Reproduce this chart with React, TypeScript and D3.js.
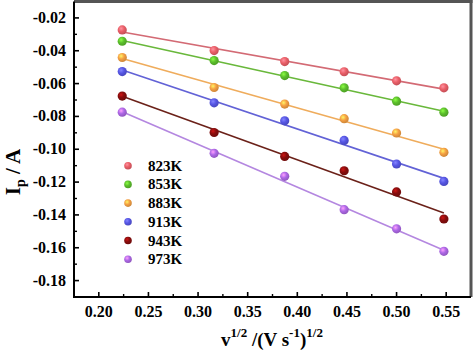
import React from "react";
import * as d3 from "d3";

const scanRootX = [0.2236, 0.3162, 0.3873, 0.4472, 0.5, 0.5477];
const temps = ["823K", "853K", "883K", "913K", "943K", "973K"];
const ip823 = [-0.0273, -0.0399, -0.0466, -0.0528, -0.0583, -0.0626];
const ip853 = [-0.0342, -0.046, -0.0551, -0.0626, -0.0707, -0.0774];
const ip883 = [-0.0441, -0.0624, -0.0725, -0.0814, -0.0901, -0.1019];
const ip913 = [-0.0527, -0.0717, -0.0827, -0.0946, -0.109, -0.1196];
const ip943 = [-0.0676, -0.0898, -0.1044, -0.1131, -0.126, -0.1425];
const ip973 = [-0.0774, -0.1025, -0.1165, -0.1368, -0.1485, -0.1622];
const seriesValues = [ip823, ip853, ip883, ip913, ip943, ip973];
const markerColors = ["#ea5f68", "#5cbf2c", "#f5a043", "#5656e4", "#860d0d", "#ad68e6"];
const lineColors = ["#d36a74", "#69b83b", "#efac5c", "#6262d6", "#6b2119", "#b487e0"];
const xTicks = [0.2, 0.25, 0.3, 0.35, 0.4, 0.45, 0.5, 0.55];
const yTicks = [-0.02, -0.04, -0.06, -0.08, -0.1, -0.12, -0.14, -0.16, -0.18];

const W = 474, H = 362;
const L = 74, R = 471, T = 1.5, B = 297;

function fit(xs: number[], ys: number[]) {
  const mx = d3.mean(xs)!, my = d3.mean(ys)!;
  let num = 0, den = 0;
  xs.forEach((x, i) => { num += (x - mx) * (ys[i] - my); den += (x - mx) ** 2; });
  const b = num / den;
  return { b, a: my - b * mx };
}

export default function App() {
  const x = d3.scaleLinear().domain([0.175, 0.575]).range([L, R]);
  const y = d3.scaleLinear().domain([-0.19, -0.01]).range([B, T]);
  const font = "'Liberation Serif', 'Times New Roman', serif";
  const minorX = xTicks.slice(0, -1).map(t => t + 0.025);
  const minorY = yTicks.map(t => t - 0.01);
  const txt = { fontFamily: font, fontWeight: 700 } as React.CSSProperties;
  return (
    <svg width={W} height={H} style={{ position: "absolute", left: 0, top: 0, background: "#fff" }}>
      <defs>
        {markerColors.map((c, i) => (
          <radialGradient key={i} id={`g${i}`} cx="0.38" cy="0.35" r="0.65">
            <stop offset="0" stopColor={d3.color(c)!.brighter(1.2).formatHex()} />
            <stop offset="0.5" stopColor={c} />
            <stop offset="1" stopColor={d3.color(c)!.darker(0.5).formatHex()} />
          </radialGradient>
        ))}
      </defs>
      <line x1={L} x2={R + 1.5} y1={T} y2={T} stroke="#555" strokeWidth={3} />
      <line x1={R} x2={R} y1={0} y2={B} stroke="#555" strokeWidth={3} />
      {seriesValues.map((ys, i) => {
        const f = fit(scanRootX, ys);
        const x0 = scanRootX[0], x1 = scanRootX[scanRootX.length - 1];
        return <line key={"l" + i} x1={x(x0)} y1={y(f.a + f.b * x0)} x2={x(x1)} y2={y(f.a + f.b * x1)}
          stroke={lineColors[i]} strokeWidth={1.6} />;
      })}
      {seriesValues.map((ys, i) => ys.map((v, j) => (
        <circle key={`m${i}-${j}`} cx={x(scanRootX[j])} cy={y(v)} r={4.6} fill={`url(#g${i})`} />
      )))}
      <line x1={L} x2={L} y1={T} y2={B + 1} stroke="#000" strokeWidth={2} />
      <line x1={L - 1} x2={R} y1={B} y2={B} stroke="#000" strokeWidth={2} />
      {xTicks.map(t => <line key={"xt" + t} x1={x(t)} x2={x(t)} y1={B} y2={B - 5} stroke="#000" strokeWidth={1.6} />)}
      {minorX.map(t => <line key={"xm" + t} x1={x(t)} x2={x(t)} y1={B} y2={B - 3} stroke="#000" strokeWidth={1.4} />)}
      {yTicks.map(t => <line key={"yt" + t} x1={L} x2={L + 5} y1={y(t)} y2={y(t)} stroke="#000" strokeWidth={1.6} />)}
      {minorY.map(t => <line key={"ym" + t} x1={L} x2={L + 3} y1={y(t)} y2={y(t)} stroke="#000" strokeWidth={1.4} />)}
      {xTicks.map(t => (
        <text key={"xl" + t} x={x(t)} y={317} textAnchor="middle" style={txt} fontSize={16}>
          {d3.format(".2f")(t)}
        </text>
      ))}
      {yTicks.map(t => (
        <text key={"yl" + t} x={66} y={y(t) + 5} textAnchor="end" style={txt} fontSize={16}>
          {d3.format(".2f")(t).replace("−", "-")}
        </text>
      ))}
      {temps.map((name, i) => (
        <g key={"lg" + i} transform={`translate(128, ${165.7 + i * 18.7})`}>
          <circle r={3.8} fill={`url(#g${i})`} />
          <text x={20} y={5} style={txt} fontSize={15}>{name}</text>
        </g>
      ))}
      <text transform="translate(20, 172) rotate(-90)" textAnchor="middle" style={txt} fontSize={21}>
        I<tspan fontSize={14} dy={5}>p</tspan><tspan dy={-5}> / A</tspan>
      </text>
      <text x={272} y={346} textAnchor="middle" style={txt} fontSize={19}>
        v<tspan fontSize={13} dy={-9}>1/2</tspan><tspan dy={9}> /(V s</tspan><tspan fontSize={13} dy={-9}>-1</tspan><tspan dy={9}>)</tspan><tspan fontSize={13} dy={-9}>1/2</tspan>
      </text>
    </svg>
  );
}
